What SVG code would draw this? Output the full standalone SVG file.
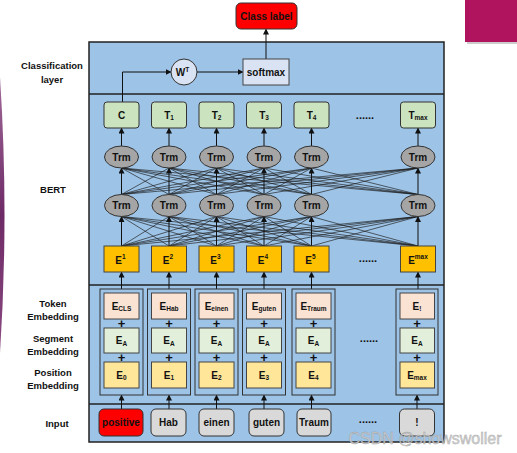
<svg xmlns="http://www.w3.org/2000/svg" width="517" height="453" viewBox="0 0 517 453">
<defs>
<marker id="ah" markerWidth="6" markerHeight="6" refX="5" refY="3" orient="auto" markerUnits="userSpaceOnUse">
<path d="M0,0 L6,3 L0,6 Z" fill="#111"/>
</marker>
<linearGradient id="pg" x1="0" y1="0" x2="0" y2="1">
<stop offset="0" stop-color="#a06a98"/>
<stop offset="0.5" stop-color="#6e2a66"/>
<stop offset="1" stop-color="#8a4a80"/>
</linearGradient>
<style>
text{font-family:"Liberation Sans",Arial,sans-serif;font-weight:bold;font-size:10px;fill:#111;text-anchor:middle;dominant-baseline:central}
.lbl{font-size:9.5px}
.panel{fill:#9dc3e6;stroke:#222;stroke-width:1.5}
.tbox{fill:#cce3bf;stroke:#333;stroke-width:1}
.trm{fill:#a5a5a5;stroke:#333;stroke-width:1}
.ebox{fill:#ffc000;stroke:#444;stroke-width:1}
.col{fill:#9dc3e6;stroke:#333;stroke-width:1}
.tok{fill:#fbe3d4;stroke:#444;stroke-width:1}
.seg{fill:#e2efda;stroke:#444;stroke-width:1}
.pos{fill:#ffe699;stroke:#444;stroke-width:1}
.inp{fill:#d9d9d9;stroke:#333;stroke-width:1}
.arr{stroke:#111;stroke-width:1;fill:none;marker-end:url(#ah)}
.mesh{stroke:#1a1a1a;stroke-width:0.65;fill:none}
.sub{font-size:6.5px}
.dots{font-size:11px}
.plus{font-size:13px}
</style>
</defs>
<rect width="517" height="453" fill="#ffffff"/>
<!-- decorations -->
<path d="M0,77 Q9,215 0,353 Z" fill="url(#pg)"/>
<rect x="467" y="2" width="50" height="42" fill="#999" opacity="0.5"/>
<rect x="465" y="0" width="52" height="42" fill="#b0145f"/>

<!-- panels -->
<g id="panels">
<rect class="panel" x="89" y="42" width="355" height="400"/>
<line x1="89" y1="94" x2="444" y2="94" stroke="#222" stroke-width="1.5"/>
<line x1="89" y1="285" x2="444" y2="285" stroke="#222" stroke-width="1.5"/>
<line x1="89" y1="404" x2="444" y2="404" stroke="#222" stroke-width="1.5"/>
</g>

<!-- left labels -->
<g id="labels">
<text class="lbl" x="52" y="65">Classification</text>
<text class="lbl" x="52" y="79">layer</text>
<text class="lbl" x="53" y="189">BERT</text>
<text class="lbl" x="53" y="303">Token</text>
<text class="lbl" x="53" y="316">Embedding</text>
<text class="lbl" x="53" y="338">Segment</text>
<text class="lbl" x="53" y="351">Embedding</text>
<text class="lbl" x="53" y="372">Position</text>
<text class="lbl" x="53" y="385">Embedding</text>
<text class="lbl" x="57" y="423">Input</text>
</g>

<!-- connectors -->
<g id="connectors">
<path class="mesh" d="M121.5,246 L169,216.5 M121.5,246 L216.5,216.5 M121.5,246 L264,216.5 M121.5,246 L311.5,216.5 M121.5,246 L418,216.5
M169,246 L121.5,216.5 M169,246 L216.5,216.5 M169,246 L264,216.5 M169,246 L311.5,216.5 M169,246 L418,216.5
M216.5,246 L121.5,216.5 M216.5,246 L169,216.5 M216.5,246 L264,216.5 M216.5,246 L311.5,216.5 M216.5,246 L418,216.5
M264,246 L121.5,216.5 M264,246 L169,216.5 M264,246 L216.5,216.5 M264,246 L311.5,216.5 M264,246 L418,216.5
M311.5,246 L121.5,216.5 M311.5,246 L169,216.5 M311.5,246 L216.5,216.5 M311.5,246 L264,216.5 M311.5,246 L418,216.5
M418,246 L121.5,216.5 M418,246 L169,216.5 M418,246 L216.5,216.5 M418,246 L264,216.5 M418,246 L311.5,216.5"/>
<path class="mesh" d="M121.5,194.5 L169,168 M121.5,194.5 L216.5,168 M121.5,194.5 L264,168 M121.5,194.5 L311.5,168 M121.5,194.5 L418,168
M169,194.5 L121.5,168 M169,194.5 L216.5,168 M169,194.5 L264,168 M169,194.5 L311.5,168 M169,194.5 L418,168
M216.5,194.5 L121.5,168 M216.5,194.5 L169,168 M216.5,194.5 L264,168 M216.5,194.5 L311.5,168 M216.5,194.5 L418,168
M264,194.5 L121.5,168 M264,194.5 L169,168 M264,194.5 L216.5,168 M264,194.5 L311.5,168 M264,194.5 L418,168
M311.5,194.5 L121.5,168 M311.5,194.5 L169,168 M311.5,194.5 L216.5,168 M311.5,194.5 L264,168 M311.5,194.5 L418,168
M418,194.5 L121.5,168 M418,194.5 L169,168 M418,194.5 L216.5,168 M418,194.5 L264,168 M418,194.5 L311.5,168"/>
<!-- vertical arrows -->
<line class="arr" x1="121.5" y1="146" x2="121.5" y2="128.5"/>
<line class="arr" x1="169" y1="146" x2="169" y2="128.5"/>
<line class="arr" x1="216.5" y1="146" x2="216.5" y2="128.5"/>
<line class="arr" x1="264" y1="146" x2="264" y2="128.5"/>
<line class="arr" x1="311.5" y1="146" x2="311.5" y2="128.5"/>
<line class="arr" x1="418" y1="146" x2="418" y2="128.5"/>
<line class="arr" x1="121.5" y1="194.5" x2="121.5" y2="168.5"/>
<line class="arr" x1="169" y1="194.5" x2="169" y2="168.5"/>
<line class="arr" x1="216.5" y1="194.5" x2="216.5" y2="168.5"/>
<line class="arr" x1="264" y1="194.5" x2="264" y2="168.5"/>
<line class="arr" x1="311.5" y1="194.5" x2="311.5" y2="168.5"/>
<line class="arr" x1="418" y1="194.5" x2="418" y2="168.5"/>
<line class="arr" x1="121.5" y1="246" x2="121.5" y2="217"/>
<line class="arr" x1="169" y1="246" x2="169" y2="217"/>
<line class="arr" x1="216.5" y1="246" x2="216.5" y2="217"/>
<line class="arr" x1="264" y1="246" x2="264" y2="217"/>
<line class="arr" x1="311.5" y1="246" x2="311.5" y2="217"/>
<line class="arr" x1="418" y1="246" x2="418" y2="217"/>
<line class="arr" x1="121.5" y1="293" x2="121.5" y2="272.5"/>
<line class="arr" x1="169" y1="293" x2="169" y2="272.5"/>
<line class="arr" x1="216.5" y1="293" x2="216.5" y2="272.5"/>
<line class="arr" x1="264" y1="293" x2="264" y2="272.5"/>
<line class="arr" x1="311.5" y1="293" x2="311.5" y2="272.5"/>
<line class="arr" x1="418" y1="293" x2="418" y2="272.5"/>
<line class="arr" x1="121.5" y1="409" x2="121.5" y2="395.5"/>
<line class="arr" x1="169" y1="409" x2="169" y2="395.5"/>
<line class="arr" x1="216.5" y1="409" x2="216.5" y2="395.5"/>
<line class="arr" x1="264" y1="409" x2="264" y2="395.5"/>
<line class="arr" x1="311.5" y1="409" x2="311.5" y2="395.5"/>
<line class="arr" x1="417" y1="409" x2="417" y2="395.5"/>
<!-- classification -->
<path class="arr" d="M122.5,102 L122.5,72 L170.5,72"/>
<line class="arr" x1="197" y1="72" x2="242.5" y2="72"/>
<line class="arr" x1="266" y1="59" x2="266" y2="29.5"/>
</g>

<!-- classification nodes -->
<g id="class-label">
<rect x="236" y="3" width="61" height="26" rx="5" fill="#ff0000" stroke="#333" stroke-width="1"/>
<text x="266.5" y="16">Class label</text>
</g>
<g id="wt">
<circle cx="184" cy="72" r="13" fill="#dae3f3" stroke="#333" stroke-width="1"/>
<text x="182.5" y="72">W<tspan class="sub" dy="-3.5">T</tspan></text>
</g>
<g id="softmax">
<rect x="243" y="59" width="46" height="26" fill="#dae3f3" stroke="#444" stroke-width="1"/>
<text x="266" y="72">softmax</text>
</g>

<!-- T row -->
<g id="t-c"><rect class="tbox" x="104" y="102" width="35" height="26" rx="3"/><text x="121.5" y="115">C</text></g>
<g id="t-1"><rect class="tbox" x="151.5" y="102" width="35" height="26" rx="3"/><text x="169" y="115">T<tspan class="sub" dy="2">1</tspan></text></g>
<g id="t-2"><rect class="tbox" x="199" y="102" width="35" height="26" rx="3"/><text x="216.5" y="115">T<tspan class="sub" dy="2">2</tspan></text></g>
<g id="t-3"><rect class="tbox" x="246.5" y="102" width="35" height="26" rx="3"/><text x="264" y="115">T<tspan class="sub" dy="2">3</tspan></text></g>
<g id="t-4"><rect class="tbox" x="294" y="102" width="35" height="26" rx="3"/><text x="311.5" y="115">T<tspan class="sub" dy="2">4</tspan></text></g>
<g id="t-max"><rect class="tbox" x="400.5" y="102" width="35" height="26" rx="3"/><text x="418" y="115">T<tspan class="sub" dy="2">max</tspan></text></g>
<text class="dots" x="365" y="115">......</text>

<!-- Trm rows -->
<g id="trm-top">
<ellipse class="trm" cx="121.5" cy="157" rx="17" ry="11"/><text x="121.5" y="157">Trm</text>
<ellipse class="trm" cx="169" cy="157" rx="17" ry="11"/><text x="169" y="157">Trm</text>
<ellipse class="trm" cx="216.5" cy="157" rx="17" ry="11"/><text x="216.5" y="157">Trm</text>
<ellipse class="trm" cx="264" cy="157" rx="17" ry="11"/><text x="264" y="157">Trm</text>
<ellipse class="trm" cx="311.5" cy="157" rx="17" ry="11"/><text x="311.5" y="157">Trm</text>
<ellipse class="trm" cx="418" cy="157" rx="17" ry="11"/><text x="418" y="157">Trm</text>
</g>
<g id="trm-bottom">
<ellipse class="trm" cx="121.5" cy="205.5" rx="17" ry="11"/><text x="121.5" y="205.5">Trm</text>
<ellipse class="trm" cx="169" cy="205.5" rx="17" ry="11"/><text x="169" y="205.5">Trm</text>
<ellipse class="trm" cx="216.5" cy="205.5" rx="17" ry="11"/><text x="216.5" y="205.5">Trm</text>
<ellipse class="trm" cx="264" cy="205.5" rx="17" ry="11"/><text x="264" y="205.5">Trm</text>
<ellipse class="trm" cx="311.5" cy="205.5" rx="17" ry="11"/><text x="311.5" y="205.5">Trm</text>
<ellipse class="trm" cx="418" cy="205.5" rx="17" ry="11"/><text x="418" y="205.5">Trm</text>
</g>

<!-- E row -->
<g id="e-1"><rect class="ebox" x="104" y="246" width="35" height="26"/><text x="120.5" y="260">E<tspan class="sub" dy="-4">1</tspan></text></g>
<g id="e-2"><rect class="ebox" x="151.5" y="246" width="35" height="26"/><text x="168" y="260">E<tspan class="sub" dy="-4">2</tspan></text></g>
<g id="e-3"><rect class="ebox" x="199" y="246" width="35" height="26"/><text x="215.5" y="260">E<tspan class="sub" dy="-4">3</tspan></text></g>
<g id="e-4"><rect class="ebox" x="246.5" y="246" width="35" height="26"/><text x="263" y="260">E<tspan class="sub" dy="-4">4</tspan></text></g>
<g id="e-5"><rect class="ebox" x="294" y="246" width="35" height="26"/><text x="310.5" y="260">E<tspan class="sub" dy="-4">5</tspan></text></g>
<g id="e-max"><rect class="ebox" x="400.5" y="246" width="35" height="26"/><text x="418" y="260">E<tspan class="sub" dy="-4">max</tspan></text></g>
<text class="dots" x="368" y="258">......</text>

<!-- embedding columns -->
<g id="emb-1">
<rect class="col" x="100" y="289" width="43" height="106"/>
<rect class="tok" x="104" y="293" width="35" height="26"/><text x="121.5" y="306">E<tspan class="sub" dy="2">CLS</tspan></text>
<text class="plus" x="121.5" y="323.5">+</text>
<rect class="seg" x="104" y="328" width="35" height="25"/><text x="121.5" y="340.5">E<tspan class="sub" dy="2">A</tspan></text>
<text class="plus" x="121.5" y="357.5">+</text>
<rect class="pos" x="104" y="362" width="35" height="26"/><text x="121.5" y="375">E<tspan class="sub" dy="2">0</tspan></text>
</g>
<g id="emb-2">
<rect class="col" x="147.5" y="289" width="43" height="106"/>
<rect class="tok" x="151.5" y="293" width="35" height="26"/><text x="169" y="306">E<tspan class="sub" dy="2">Hab</tspan></text>
<text class="plus" x="169" y="323.5">+</text>
<rect class="seg" x="151.5" y="328" width="35" height="25"/><text x="169" y="340.5">E<tspan class="sub" dy="2">A</tspan></text>
<text class="plus" x="169" y="357.5">+</text>
<rect class="pos" x="151.5" y="362" width="35" height="26"/><text x="169" y="375">E<tspan class="sub" dy="2">1</tspan></text>
</g>
<g id="emb-3">
<rect class="col" x="195" y="289" width="43" height="106"/>
<rect class="tok" x="199" y="293" width="35" height="26"/><text x="216.5" y="306">E<tspan class="sub" dy="2">einen</tspan></text>
<text class="plus" x="216.5" y="323.5">+</text>
<rect class="seg" x="199" y="328" width="35" height="25"/><text x="216.5" y="340.5">E<tspan class="sub" dy="2">A</tspan></text>
<text class="plus" x="216.5" y="357.5">+</text>
<rect class="pos" x="199" y="362" width="35" height="26"/><text x="216.5" y="375">E<tspan class="sub" dy="2">2</tspan></text>
</g>
<g id="emb-4">
<rect class="col" x="242.5" y="289" width="43" height="106"/>
<rect class="tok" x="246.5" y="293" width="35" height="26"/><text x="264" y="306">E<tspan class="sub" dy="2">guten</tspan></text>
<text class="plus" x="264" y="323.5">+</text>
<rect class="seg" x="246.5" y="328" width="35" height="25"/><text x="264" y="340.5">E<tspan class="sub" dy="2">A</tspan></text>
<text class="plus" x="264" y="357.5">+</text>
<rect class="pos" x="246.5" y="362" width="35" height="26"/><text x="264" y="375">E<tspan class="sub" dy="2">3</tspan></text>
</g>
<g id="emb-5">
<rect class="col" x="292" y="289" width="43" height="106"/>
<rect class="tok" x="296" y="293" width="35" height="26"/><text x="313.5" y="306">E<tspan class="sub" dy="2">Traum</tspan></text>
<text class="plus" x="313.5" y="323.5">+</text>
<rect class="seg" x="296" y="328" width="35" height="25"/><text x="313.5" y="340.5">E<tspan class="sub" dy="2">A</tspan></text>
<text class="plus" x="313.5" y="357.5">+</text>
<rect class="pos" x="296" y="362" width="35" height="26"/><text x="313.5" y="375">E<tspan class="sub" dy="2">4</tspan></text>
</g>
<g id="emb-max">
<rect class="col" x="396" y="289" width="42" height="106"/>
<rect class="tok" x="400" y="293" width="34.5" height="26"/><text x="417" y="306">E<tspan class="sub" dy="2">!</tspan></text>
<text class="plus" x="417" y="323.5">+</text>
<rect class="seg" x="400" y="328" width="34.5" height="25"/><text x="417" y="340.5">E<tspan class="sub" dy="2">A</tspan></text>
<text class="plus" x="417" y="357.5">+</text>
<rect class="pos" x="400" y="362" width="34.5" height="26"/><text x="417" y="375">E<tspan class="sub" dy="2">max</tspan></text>
</g>
<text class="dots" x="369" y="338">......</text>

<!-- input row -->
<g id="in-positive"><rect x="99" y="409" width="44" height="27" rx="5" fill="#ff0000" stroke="#333" stroke-width="1"/><text x="121" y="422.5">positive</text></g>
<g id="in-hab"><rect class="inp" x="151" y="409" width="35" height="27" rx="5"/><text x="168.5" y="422.5">Hab</text></g>
<g id="in-einen"><rect class="inp" x="199" y="409" width="35" height="27" rx="5"/><text x="216.5" y="422.5">einen</text></g>
<g id="in-guten"><rect class="inp" x="249" y="409" width="35" height="27" rx="5"/><text x="266.5" y="422.5">guten</text></g>
<g id="in-traum"><rect class="inp" x="297" y="409" width="34" height="27" rx="5"/><text x="314" y="422.5">Traum</text></g>
<g id="in-excl"><rect class="inp" x="399.5" y="409" width="35" height="27" rx="5"/><text x="417" y="422.5">!</text></g>
<text class="dots" x="368" y="419">......</text>

<text x="425" y="438" style="font-weight:normal;font-size:16px;fill:#d0d0d0;stroke:#9a9a9a;stroke-width:0.4;opacity:0.9">CSDN @showswoller</text>
</svg>
